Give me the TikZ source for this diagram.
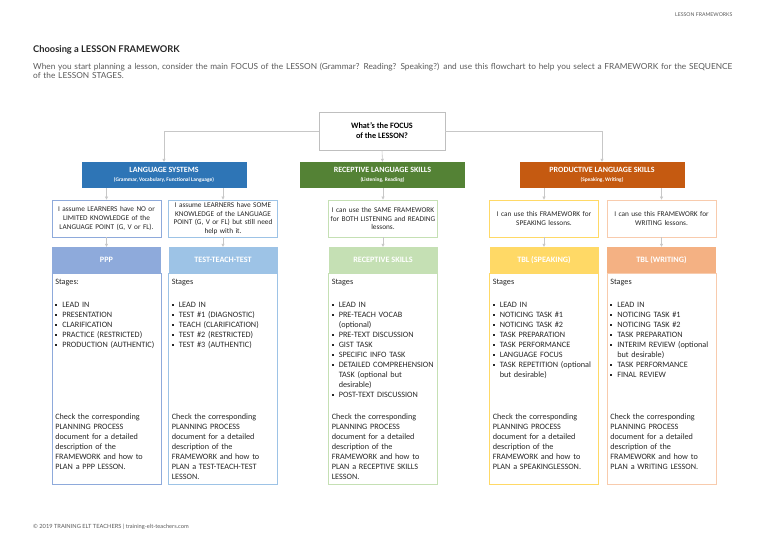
\documentclass[tikz,border=0pt]{standalone}
\usepackage{fontspec}
\setmainfont{Carlito}
\newfontfamily\ralefont{Lato}
\usetikzlibrary{arrows.meta}

\definecolor{lsblue}{HTML}{2E75B6}
\definecolor{rgreen}{HTML}{548235}
\definecolor{porange}{HTML}{C55A11}
\definecolor{pppcol}{HTML}{8EAADB}
\definecolor{tttcol}{HTML}{9DC3E6}
\definecolor{reccol}{HTML}{C5E0B4}
\definecolor{spkcol}{HTML}{FFD966}
\definecolor{wrtcol}{HTML}{F4B183}
\definecolor{wrtline}{HTML}{F8CBAD}
\definecolor{txtgray}{HTML}{595959}

% bullet item with hanging indent
\newcommand\itm{\par\hangindent=7pt\hangafter=1\noindent\makebox[7pt][l]{\rule[1.7pt]{1.8pt}{1.8pt}}}
% small subtitle font
\newcommand\subfnt{\bfseries\fontsize{5.4}{6}\selectfont}

\begin{document}
\begin{tikzpicture}[x=1pt,y=-1pt,
    con/.style={draw=black!22,line width=0.6pt,-{Triangle[length=3pt,width=3pt]}},
    cat/.style={text=white,font=\bfseries\fontsize{8}{9}\selectfont,align=center,
        minimum width=165pt,minimum height=26pt,inner sep=0pt},
    asm/.style={draw,line width=0.8pt,fill=white,align=center,text width=106pt,
        minimum width=109pt,minimum height=37pt,inner sep=1pt,
        font=\fontsize{7.3}{8.6}\selectfont,text=black!85},
    fw/.style={text=white,font=\bfseries\fontsize{8.2}{9}\selectfont,
        minimum width=109pt,minimum height=26pt,inner sep=0pt},
    stagebox/.style={draw,line width=0.8pt,minimum width=109pt,minimum height=211pt,inner sep=0pt},
    stagetxt/.style={anchor=north west,align=left,text width=104pt,inner sep=2pt,
        font=\fontsize{8.2}{10}\selectfont,text=black!85}]

\useasboundingbox (0,0) rectangle (768,543);

% page texts
\node[anchor=east,font=\ralefont\fontsize{5.2}{6}\selectfont,text=txtgray] (pagehead) at (736,15) {LESSON FRAMEWORKS};
\node[anchor=west,font=\ralefont\bfseries\fontsize{9.3}{10}\selectfont,text=black!85,inner sep=0pt] (title) at (33,50) {Choosing a LESSON FRAMEWORK};
\node[anchor=north west,align=left,text width=720pt,inner sep=0pt,
    font=\ralefont\fontsize{8.3}{9}\selectfont,text=txtgray] (intro) at (33,63)
    {When you start planning a lesson, consider the main FOCUS of the LESSON (Grammar? Reading? Speaking?) and use this flowchart to help you select a FRAMEWORK for the SEQUENCE\newline of the LESSON STAGES.};
\node[anchor=west,font=\ralefont\fontsize{5.7}{6}\selectfont,text=txtgray,inner sep=0pt] (foot) at (33,527) {\textcopyright{} 2019 TRAINING ELT TEACHERS | training-elt-teachers.com};

% question
\node[draw=black!25,line width=0.8pt,fill=white,minimum width=126pt,minimum height=38pt,align=center,
    font=\bfseries\fontsize{8.2}{10}\selectfont] (focus) at (382,131) {What's the FOCUS\\of the LESSON?};

% main areas
\node[cat,fill=lsblue] (ls) at (164,175) {LANGUAGE SYSTEMS\\[0.5pt]{\subfnt (Grammar, Vocabulary, Functional Language)}};
\node[cat,fill=rgreen] (rls) at (382.5,175) {RECEPTIVE LANGUAGE SKILLS\\[0.5pt]{\subfnt (Listening, Reading)}};
\node[cat,fill=porange] (pls) at (602,175) {PRODUCTIVE LANGUAGE SKILLS\\[0.5pt]{\subfnt (Speaking, Writing)}};

% assumptions
\node[asm,draw=pppcol] (pppA) at (106.5,218.5) {I assume LEARNERS have NO or\\LIMITED KNOWLEDGE of the\\LANGUAGE POINT (G, V or FL).};
\node[asm,draw=tttcol] (tttA) at (223,218.5) {I assume LEARNERS have SOME\\KNOWLEDGE of the LANGUAGE\\POINT (G, V or FL) but still need\\help with it.};
\node[asm,draw=reccol] (recA) at (383,218.5) {I can use the SAME FRAMEWORK\\for BOTH LISTENING and READING\\lessons.};
\node[asm,draw=spkcol] (spkA) at (544,218.5) {I can use this FRAMEWORK for\\SPEAKING lessons.};
\node[asm,draw=wrtline] (wrtA) at (661.5,218.5) {I can use this FRAMEWORK for\\WRITING lessons.};

% frameworks
\node[fw,fill=pppcol] (pppH) at (106.5,260) {PPP};
\node[fw,fill=tttcol] (tttH) at (223,260) {TEST-TEACH-TEST};
\node[fw,fill=reccol] (recH) at (383,260) {RECEPTIVE SKILLS};
\node[fw,fill=spkcol] (spkH) at (544,260) {TBL (SPEAKING)};
\node[fw,fill=wrtcol] (wrtH) at (661.5,260) {TBL (WRITING)};

% stage boxes
\node[stagebox,draw=pppcol] (pppB) at (106.5,378.5) {};
\node[stagebox,draw=tttcol] (tttB) at (223,378.5) {};
\node[stagebox,draw=reccol] (recB) at (383,378.5) {};
\node[stagebox,draw=spkcol] (spkB) at (544,378.5) {};
\node[stagebox,draw=wrtline] (wrtB) at (661.5,378.5) {};

\node[stagetxt] (pppS) at ([shift={(1.5,4.5)}]pppB.north west) {Stages:\par\vspace{13pt}%
    \itm LEAD IN\itm PRESENTATION\itm CLARIFICATION\itm PRACTICE (RESTRICTED)\itm PRODUCTION (AUTHENTIC)\par};
\node[stagetxt] (tttS) at ([shift={(1.5,4.5)}]tttB.north west) {Stages\par\vspace{13pt}%
    \itm LEAD IN\itm TEST \#1 (DIAGNOSTIC)\itm TEACH (CLARIFICATION)\itm TEST \#2 (RESTRICTED)\itm TEST \#3 (AUTHENTIC)\par};
\node[stagetxt] (recS) at ([shift={(1.5,4.5)}]recB.north west) {Stages\par\vspace{13pt}%
    \itm LEAD IN\itm PRE-TEACH VOCAB\newline(optional)\itm PRE-TEXT DISCUSSION\itm GIST TASK\itm SPECIFIC INFO TASK
    \itm DETAILED COMPREHENSION\newline TASK (optional but\newline desirable)\itm POST-TEXT DISCUSSION\par};
\node[stagetxt] (spkS) at ([shift={(1.5,4.5)}]spkB.north west) {Stages\par\vspace{13pt}%
    \itm LEAD IN\itm NOTICING TASK \#1\itm NOTICING TASK \#2\itm TASK PREPARATION\itm TASK PERFORMANCE
    \itm LANGUAGE FOCUS\itm TASK REPETITION (optional\newline but desirable)\par};
\node[stagetxt] (wrtS) at ([shift={(1.5,4.5)}]wrtB.north west) {Stages\par\vspace{13pt}%
    \itm LEAD IN\itm NOTICING TASK \#1\itm NOTICING TASK \#2\itm TASK PREPARATION
    \itm INTERIM REVIEW (optional\newline but desirable)\itm TASK PERFORMANCE\itm FINAL REVIEW\par};

\node[stagetxt] (pppC) at ([xshift=1.5pt]pppB.west |- 0,412) {Check the corresponding\\PLANNING PROCESS\\document for a detailed\\description of the\\FRAMEWORK and how to\\PLAN a PPP LESSON.};
\node[stagetxt] (tttC) at ([xshift=1.5pt]tttB.west |- 0,412) {Check the corresponding\\PLANNING PROCESS\\document for a detailed\\description of the\\FRAMEWORK and how to\\PLAN a TEST-TEACH-TEST\\LESSON.};
\node[stagetxt] (recC) at ([xshift=1.5pt]recB.west |- 0,412) {Check the corresponding\\PLANNING PROCESS\\document for a detailed\\description of the\\FRAMEWORK and how to\\PLAN a RECEPTIVE SKILLS\\LESSON.};
\node[stagetxt] (spkC) at ([xshift=1.5pt]spkB.west |- 0,412) {Check the corresponding\\PLANNING PROCESS\\document for a detailed\\description of the\\FRAMEWORK and how to\\PLAN a SPEAKINGLESSON.};
\node[stagetxt] (wrtC) at ([xshift=1.5pt]wrtB.west |- 0,412) {Check the corresponding\\PLANNING PROCESS\\document for a detailed\\description of the\\FRAMEWORK and how to\\PLAN a WRITING LESSON.};

% connectors
\draw[con] (focus.west) -| (ls.north);
\draw[con] (focus.east) -| (pls.north);
\draw[con] (focus.south) -- (rls.north);
\draw[con] (pppA.north |- ls.south) -- (pppA.north);
\draw[con] (tttA.north |- ls.south) -- (tttA.north);
\draw[con] (recA.north |- rls.south) -- (recA.north);
\draw[con] (spkA.north |- pls.south) -- (spkA.north);
\draw[con] (wrtA.north |- pls.south) -- (wrtA.north);
\draw[con] (pppA) -- (pppH); \draw[con] (tttA) -- (tttH); \draw[con] (recA) -- (recH);
\draw[con] (spkA) -- (spkH); \draw[con] (wrtA) -- (wrtH);
\end{tikzpicture}
\end{document}
